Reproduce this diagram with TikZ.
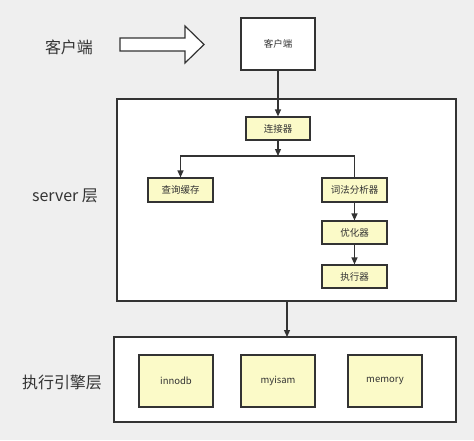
\documentclass[tikz,border=0pt]{standalone}
\usepackage{fontspec}
\setmainfont{Noto Sans CJK SC}
\usetikzlibrary{arrows.meta}
\definecolor{bg}{HTML}{EFEFEF}
\definecolor{boxfill}{HTML}{FBFAC8}
\definecolor{ink}{HTML}{333333}
\tikzset{
  frame/.style={draw=ink, line width=1.2pt, fill=white},
  ybox/.style={draw=ink, line width=1.2pt, fill=boxfill, text=ink, font=\fontsize{9.5}{11}\selectfont},
  biglabel/.style={text=ink, font=\fontsize{16}{18}\selectfont},
  conn/.style={draw=ink, line width=1.2pt},
  arr/.style={conn, -{Triangle[length=7pt,width=6pt]}}
}
\begin{document}
\begin{tikzpicture}[x=1pt,y=-1pt]
\fill[bg] (0,0) rectangle (474,440);
\useasboundingbox (0,0) rectangle (474,440);
% frames
\draw[frame] (117,99) rectangle (456,301);
\draw[frame] (114,337) rectangle (456,422);
% client
\node[draw=ink, line width=1.2pt, fill=white, text=ink, font=\fontsize{9.5}{11}\selectfont, minimum width=74pt, minimum height=52pt, inner sep=0pt] (client) at (278,44) {客户端};
% block arrow
\draw[draw=ink, line width=1.2pt, fill=white, line join=miter] (120,38) -- (185,38) -- (185,26) -- (204,44.5) -- (185,63) -- (185,51) -- (120,51) -- cycle;
% labels
\node[biglabel] (lclient) at (69,47) {客户端};
\node[biglabel] (lserver) at (65,196) {server 层};
\node[biglabel] (lengine) at (62,382) {执行引擎层};
% server boxes
\node[ybox, minimum width=64pt, minimum height=23pt, inner sep=0pt] (conn) at (278,128.5) {连接器};
\node[ybox, minimum width=65pt, minimum height=24pt, inner sep=0pt] (cache) at (180.5,190) {查询缓存};
\node[ybox, minimum width=65pt, minimum height=24pt, inner sep=0pt] (lex) at (354.5,190) {词法分析器};
\node[ybox, minimum width=65pt, minimum height=23pt, inner sep=0pt] (opt) at (354.5,232.5) {优化器};
\node[ybox, minimum width=65pt, minimum height=23pt, inner sep=0pt] (exec) at (354.5,276.5) {执行器};
% engine boxes
\node[ybox, minimum width=74pt, minimum height=52pt, inner sep=0pt] (innodb) at (176,381) {innodb};
\node[ybox, minimum width=74pt, minimum height=52pt, inner sep=0pt] (myisam) at (278,381) {myisam};
\node[ybox, minimum width=74pt, minimum height=52pt, inner sep=0pt] (memory) at (385,381) {memory};
% connectors
\coordinate (split) at (278,156);
\coordinate (sbot) at (287,301);
\coordinate (etop) at (287,337);
\draw[arr] (client.south) -- (conn.north);
\draw[arr] (conn.south) -- (split);
\draw[arr] (split) -| (cache.north);
\draw[conn] (split) -| (lex.north);
\draw[arr] (lex.south) -- (opt.north);
\draw[arr] (opt.south) -- (exec.north);
\draw[arr] (sbot) -- (etop);
\end{tikzpicture}
\end{document}
